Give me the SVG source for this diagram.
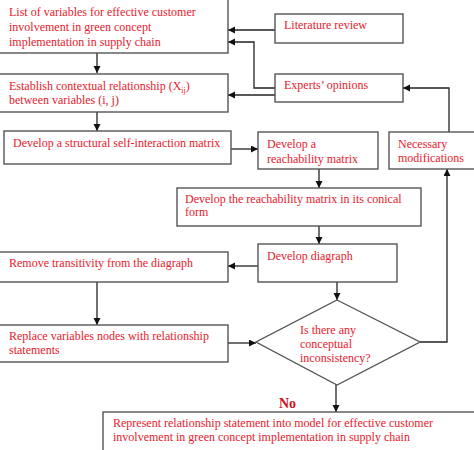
<svg xmlns="http://www.w3.org/2000/svg" width="474" height="450" viewBox="0 0 474 450">
<defs>
<style>
.box{fill:#fff;stroke:#555;stroke-width:1.4}
.t{font-family:"Liberation Serif",serif;font-size:12px;fill:#e8202c}
.c{fill:none;stroke:#222;stroke-width:1.3}
</style>
<marker id="ah" markerWidth="8" markerHeight="8" refX="7" refY="3.5" orient="auto" markerUnits="userSpaceOnUse">
<path d="M0,0 L7,3.5 L0,7 Z" fill="#111"/>
</marker>
</defs>
<rect width="474" height="450" fill="#fff"/>
<g id="connectors" marker-end="url(#ah)">
<path class="c" d="M97,53 V73"/>
<path class="c" d="M275,30 H228"/>
<path class="c" d="M275,88 H254 V42 H228"/>
<path class="c" d="M275,95 H228"/>
<path class="c" d="M97,112 V131"/>
<path class="c" d="M231,149 H258"/>
<path class="c" d="M319,169 V188"/>
<path class="c" d="M319,226 V244"/>
<path class="c" d="M258,266 H228"/>
<path class="c" d="M97,282 V325"/>
<path class="c" d="M228,343 H256"/>
<path class="c" d="M337,282 V300"/>
<path class="c" d="M420,342 H447 V169"/>
<path class="c" d="M449,132 V88 H403"/>
<path class="c" d="M336,385 V412"/>
</g>
<g id="n1"><rect class="box" x="-1" y="-2" width="229" height="55"/>
<text class="t" x="9" y="16">List of variables for effective customer</text>
<text class="t" x="9" y="31">involvement in green concept</text>
<text class="t" x="9" y="46">implementation in supply chain</text></g>
<g id="n2"><rect class="box" x="-1" y="74" width="229" height="38"/>
<text class="t" x="9" y="90">Establish contextual relationship (X<tspan font-size="8" dy="3">ij</tspan><tspan dy="-3">)</tspan></text>
<text class="t" x="9" y="104">between variables (i, j)</text></g>
<g id="lit"><rect class="box" x="275" y="14" width="128" height="29"/>
<text class="t" x="284" y="29">Literature review</text></g>
<g id="exp"><rect class="box" x="275" y="74" width="128" height="28"/>
<text class="t" x="284" y="89">Experts’ opinions</text></g>
<g id="n3"><rect class="box" x="4" y="131" width="227" height="33"/>
<text class="t" x="13" y="147">Develop a structural self-interaction matrix</text></g>
<g id="n4"><rect class="box" x="258" y="132" width="120" height="37"/>
<text class="t" x="267" y="148">Develop a</text>
<text class="t" x="267" y="163">reachability matrix</text></g>
<g id="nec"><rect class="box" x="389" y="132" width="86" height="37"/>
<text class="t" x="398" y="148">Necessary</text>
<text class="t" x="398" y="162">modifications</text></g>
<g id="n5"><rect class="box" x="177" y="188" width="244" height="38"/>
<text class="t" x="185" y="203">Develop the reachability matrix in its conical</text>
<text class="t" x="185" y="216">form</text></g>
<g id="n6"><rect class="box" x="258" y="244" width="139" height="38"/>
<text class="t" x="267" y="260">Develop diagraph</text></g>
<g id="n7"><rect class="box" x="-1" y="252" width="229" height="30"/>
<text class="t" x="9" y="267">Remove transitivity from the diagraph</text></g>
<g id="n8"><rect class="box" x="-1" y="325" width="229" height="37"/>
<text class="t" x="9" y="340">Replace variables nodes with relationship</text>
<text class="t" x="9" y="354">statements</text></g>
<g id="dec"><polygon class="box" points="337,300 420,342 337,385 256,342"/>
<text class="t" x="300" y="334">Is there any</text>
<text class="t" x="300" y="348">conceptual</text>
<text class="t" x="300" y="362">inconsistency?</text></g>
<g id="n9"><rect class="box" x="103" y="412" width="372" height="48"/>
<text class="t" x="113" y="427">Represent relationship statement into model for effective customer</text>
<text class="t" x="113" y="441">involvement in green concept implementation in supply chain</text></g>
<text x="279" y="408" font-family="Liberation Serif,serif" font-size="14" font-weight="bold" fill="#d01020">No</text>
</svg>
